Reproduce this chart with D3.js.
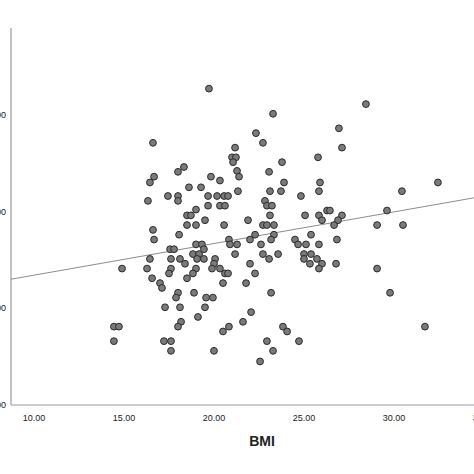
<!DOCTYPE html>
<html><head><meta charset="utf-8">
<script src="https://cdn.jsdelivr.net/npm/d3@7"></script>
<style>body{margin:0;background:#fff}text{font-family:"Liberation Sans",Arial,sans-serif}</style>
</head><body><svg id="c" width="474" height="474"></svg>
<script>
const bmi = [19.72,23.28,16.61,22.33,22.72,21.17,21.00,21.22,21.06,18.33,18.00,21.28,21.39,16.67,16.44,19.83,20.33,23.06,18.61,19.28,
  21.33,23.11,16.33,17.44,18.00,18.00,19.67,20.17,20.56,20.78,19.67,20.33,20.61,22.83,22.94,23.22,19.00,18.50,18.72,18.50,
  19.00,19.50,20.56,21.89,23.11,22.72,22.94,23.33,16.61,16.67,18.06,22.28,23.33,19.00,19.33,20.83,20.89,21.28,22.00,23.17,
  22.61,17.56,17.78,16.44,17.61,18.11,18.39,18.83,19.17,19.44,19.06,19.44,20.06,20.00,21.17,22.72,23.06,23.56,14.89,16.28,
  17.61,19.00,19.89,20.33,20.61,20.78,22.00,17.50,18.83,22.28,16.56,17.00,17.11,18.50,20.50,21.78,18.00,17.89,18.89,19.56,
  19.94,23.17,17.28,18.11,19.50,22.06,19.11,14.44,14.72,18.17,18.00,21.61,20.83,20.50,14.44,17.22,17.61,17.61,20.00,22.56,
  22.94,23.28,28.44,26.94,27.11,23.78,25.78,23.89,23.72,25.89,25.83,24.83,32.44,30.44,25.06,25.83,26.28,26.44,26.00,27.11,
  26.89,26.67,29.61,29.06,30.50,25.39,24.50,24.67,25.11,25.83,26.83,25.00,25.39,25.00,25.72,26.00,25.33,25.83,26.78,29.06,
  29.78,23.83,24.06,24.72,31.72];
const score = [3.27,3.01,2.71,2.81,2.71,2.66,2.56,2.56,2.51,2.46,2.41,2.42,2.36,2.36,2.30,2.36,2.32,2.41,2.25,2.25,
  2.21,2.21,2.11,2.16,2.16,2.11,2.16,2.16,2.16,2.16,2.06,2.06,2.06,2.11,2.06,2.06,2.02,1.96,1.96,1.86,
  1.86,1.91,1.86,1.91,1.96,1.86,1.86,1.86,1.81,1.71,1.76,1.76,1.76,1.66,1.66,1.71,1.66,1.66,1.71,1.71,
  1.66,1.61,1.61,1.51,1.51,1.51,1.46,1.56,1.56,1.61,1.51,1.51,1.51,1.46,1.56,1.56,1.51,1.56,1.41,1.41,
  1.41,1.41,1.41,1.41,1.36,1.36,1.46,1.36,1.36,1.36,1.31,1.26,1.21,1.31,1.26,1.26,1.16,1.11,1.16,1.11,
  1.11,1.16,1.01,1.01,1.01,0.96,0.91,0.81,0.81,0.86,0.81,0.86,0.81,0.76,0.66,0.66,0.66,0.56,0.56,0.45,
  0.66,0.56,3.11,2.86,2.66,2.51,2.56,2.30,2.21,2.30,2.21,2.16,2.30,2.21,1.96,1.96,2.01,2.01,1.91,1.96,
  1.91,1.86,2.01,1.86,1.86,1.76,1.71,1.66,1.66,1.66,1.71,1.56,1.56,1.51,1.51,1.46,1.46,1.41,1.46,1.41,
  1.16,0.81,0.76,0.66,0.81];
const xTicks = [10,15,20,25,30,35];
const yTicks = [0,1,2,3];
const fit = {intercept: 1.015, slope: 0.0327};

const svg = d3.select("#c");
const x = d3.scaleLinear().domain([10, 35]).range([34, 484]);
const y = d3.scaleLinear().domain([0, 4]).range([405, 18]);
const axisCol = "#9a9a9a";

// axes frame
svg.append("line").attr("x1", 11).attr("x2", 474).attr("y1", 405).attr("y2", 405)
  .attr("stroke", axisCol).attr("stroke-width", 1.2);
svg.append("line").attr("x1", 11).attr("x2", 11).attr("y1", 28).attr("y2", 405)
  .attr("stroke", axisCol).attr("stroke-width", 1.2);

svg.selectAll(".xt").data(xTicks).join("text")
  .attr("x", d => x(d)).attr("y", 421).attr("text-anchor", "middle")
  .attr("font-size", 9).attr("fill", "#222").text(d => d.toFixed(2));
svg.selectAll(".yt").data(yTicks).join("text")
  .attr("x", 6).attr("y", d => y(d) + 3).attr("text-anchor", "end")
  .attr("font-size", 9).attr("fill", "#222").text(d => d.toFixed(0) + ".00");

svg.append("text").attr("x", 262).attr("y", 446).attr("text-anchor", "middle")
  .attr("font-size", 14).attr("font-weight", "bold").attr("fill", "#222").text("BMI");

// regression line
const x0 = x.invert(11), x1 = x.invert(474);
svg.append("line")
  .attr("x1", x(x0)).attr("y1", y(fit.intercept + fit.slope * x0))
  .attr("x2", x(x1)).attr("y2", y(fit.intercept + fit.slope * x1))
  .attr("stroke", "#8c8c8c").attr("stroke-width", 1);

svg.selectAll(".pt").data(d3.range(bmi.length)).join("circle")
  .attr("cx", i => x(bmi[i])).attr("cy", i => y(score[i])).attr("r", 3.4)
  .attr("fill", "#7a7a7a").attr("stroke", "#2a2a2a").attr("stroke-width", 1);
</script></body></html>
